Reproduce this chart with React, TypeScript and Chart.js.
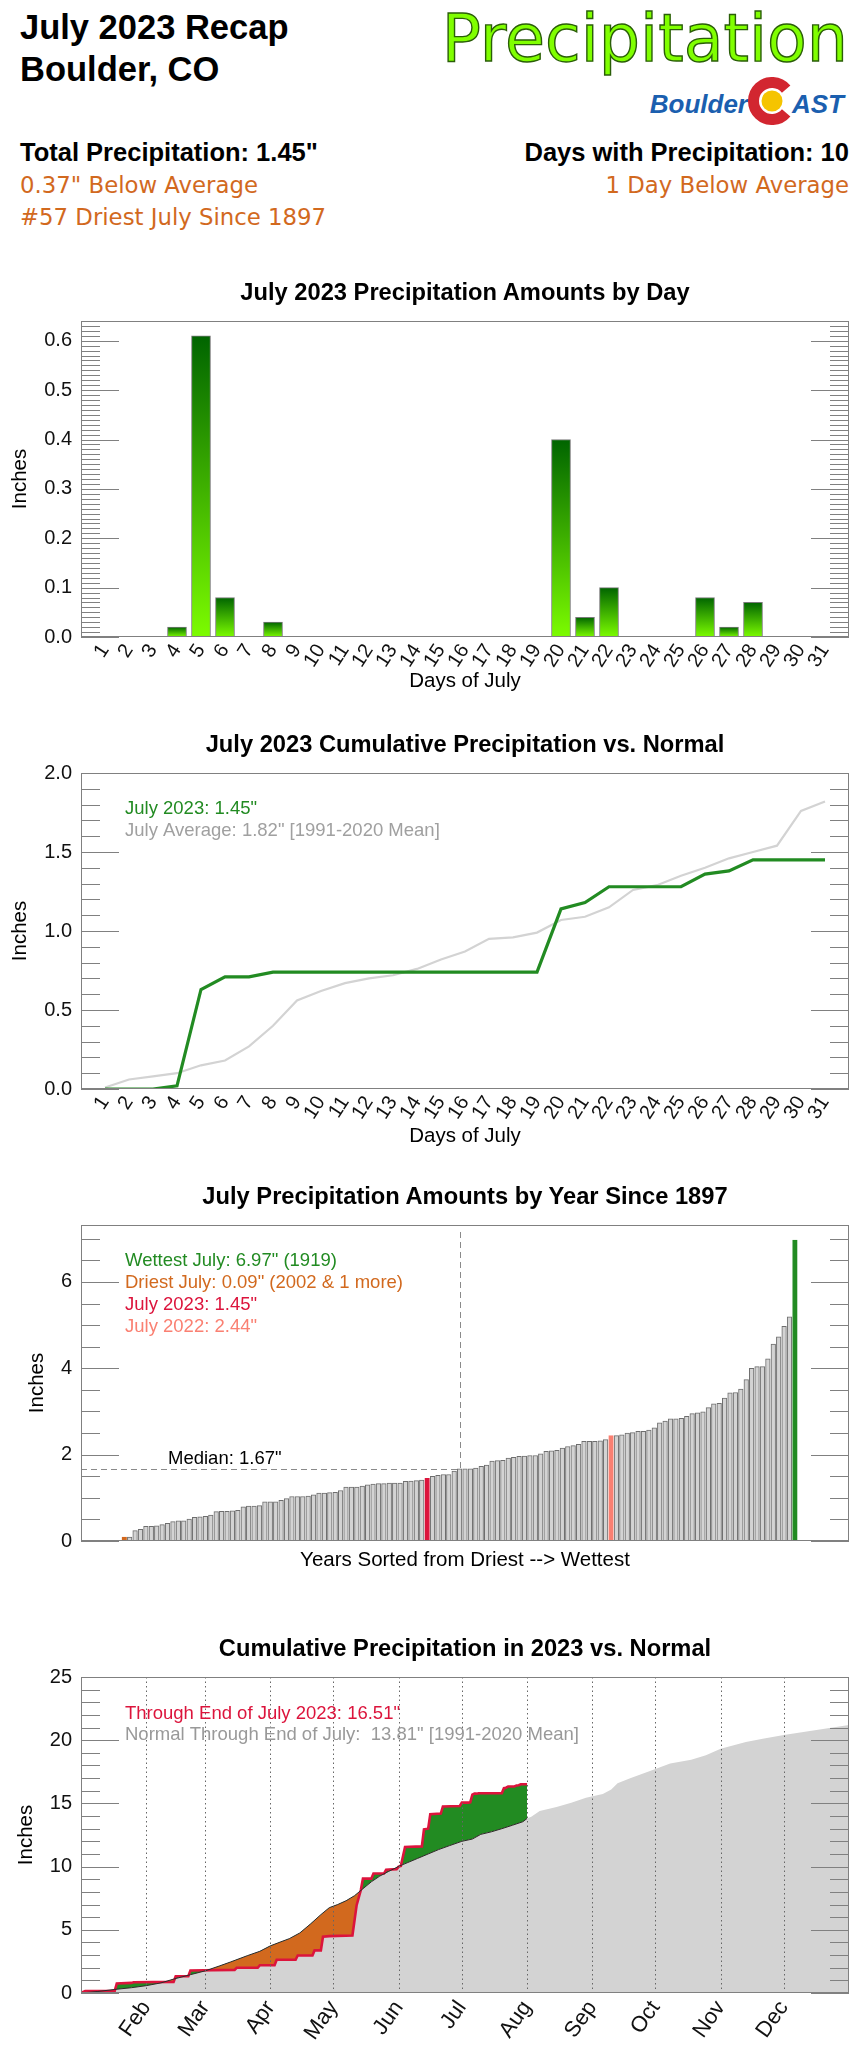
import React, { useEffect, useRef } from 'react';
import { Chart, registerables } from 'chart.js';

Chart.register(...registerables);

const FONT = '"Liberation Sans", Arial, Helvetica, sans-serif';
const DEJAVU = '"DejaVu Sans", Verdana, sans-serif';
Chart.defaults.font.family = FONT;
Chart.defaults.color = '#111';

// ---------------- Data: July 2023 daily ----------------
const DAYS = [1, 2, 3, 4, 5, 6, 7, 8, 9, 10, 11, 12, 13, 14, 15, 16, 17, 18, 19, 20, 21, 22, 23, 24, 25, 26, 27, 28, 29, 30, 31];
const DAILY_PRECIP = [0, 0, 0, 0.02, 0.61, 0.08, 0, 0.03, 0, 0, 0, 0, 0, 0, 0, 0, 0, 0, 0, 0.4, 0.04, 0.1, 0, 0, 0, 0.08, 0.02, 0.07, 0, 0, 0];
const CUM_2023 = [0, 0, 0, 0.02, 0.63, 0.71, 0.71, 0.74, 0.74, 0.74, 0.74, 0.74, 0.74, 0.74, 0.74, 0.74, 0.74, 0.74, 0.74, 1.14, 1.18, 1.28, 1.28, 1.28, 1.28, 1.36, 1.38, 1.45, 1.45, 1.45, 1.45];
const CUM_NORMAL = [0.01, 0.06, 0.08, 0.1, 0.15, 0.18, 0.27, 0.4, 0.56, 0.62, 0.67, 0.7, 0.72, 0.76, 0.82, 0.87, 0.95, 0.96, 0.99, 1.07, 1.09, 1.15, 1.26, 1.29, 1.35, 1.4, 1.46, 1.5, 1.54, 1.76, 1.82];

// ---------------- Data: July totals sorted (1897-2023) ----------------
const JULY_TOTALS_SORTED = [
  0.09, 0.09, 0.24, 0.27, 0.34, 0.34, 0.35, 0.38, 0.41, 0.45,
  0.47, 0.47, 0.51, 0.55, 0.56, 0.57, 0.6, 0.68, 0.69, 0.69,
  0.7, 0.71, 0.79, 0.81, 0.81, 0.82, 0.91, 0.91, 0.91, 0.94,
  0.98, 1.03, 1.03, 1.03, 1.04, 1.07, 1.11, 1.11, 1.12, 1.13,
  1.17, 1.25, 1.25, 1.25, 1.27, 1.3, 1.32, 1.33, 1.33, 1.34,
  1.34, 1.34, 1.38, 1.39, 1.4, 1.41, 1.45, 1.5, 1.52, 1.54,
  1.54, 1.62, 1.67, 1.67, 1.67, 1.69, 1.73, 1.76, 1.85, 1.86,
  1.87, 1.92, 1.94, 1.96, 1.97, 1.98, 1.98, 2.02, 2.08, 2.09,
  2.1, 2.15, 2.19, 2.21, 2.24, 2.31, 2.31, 2.31, 2.32, 2.35,
  2.44, 2.44, 2.46, 2.5, 2.51, 2.54, 2.54, 2.57, 2.62, 2.74,
  2.78, 2.83, 2.83, 2.84, 2.89, 2.95, 2.97, 2.99, 3.09, 3.18,
  3.19, 3.31, 3.43, 3.44, 3.52, 3.74, 4.0, 4.04, 4.04, 4.22,
  4.56, 4.73, 4.97, 5.19, 6.97,
];
const JULY_2023_TOTAL = 1.45;
const JULY_2022_TOTAL = 2.44;

// ---------------- Data: year cumulative ----------------
const MONTH_LABELS = ['Feb', 'Mar', 'Apr', 'May', 'Jun', 'Jul', 'Aug', 'Sep', 'Oct', 'Nov', 'Dec'];
const MONTH_STARTS = [31, 59, 90, 120, 151, 181, 212, 243, 273, 304, 334];
const NORMAL_DAYS = [0, 8, 16, 24, 31, 38, 44, 52, 59, 66, 71, 79, 85, 90, 95, 99, 104, 109, 114, 118, 122, 126, 130, 134, 138, 142, 146, 151, 155, 160, 165, 170, 175, 181, 186, 190, 195, 200, 205, 210, 212, 214, 218, 226, 233, 240, 248, 252, 255, 261, 273, 280, 290, 297, 304, 316, 324, 334, 348, 365];
const NORMAL_VALUES = [0, 0.12, 0.28, 0.42, 0.58, 0.8, 1.1, 1.45, 1.75, 2.15, 2.45, 2.95, 3.3, 3.73, 4.05, 4.3, 4.75, 5.45, 6.2, 6.75, 7.0, 7.3, 7.7, 8.25, 8.8, 9.25, 9.6, 10.02, 10.3, 10.65, 11.0, 11.35, 11.65, 12.0, 12.18, 12.55, 12.75, 13.0, 13.27, 13.55, 13.81, 13.95, 14.4, 14.72, 15.06, 15.44, 15.75, 16.09, 16.6, 16.99, 17.72, 18.16, 18.46, 18.8, 19.33, 19.85, 20.11, 20.42, 20.76, 21.2];
const Y2023_DAYS = [0, 2, 16, 17, 24, 25, 44, 45, 51, 52, 73, 74, 84, 85, 92, 93, 102, 103, 110, 111, 114, 115, 118, 129, 131, 133, 134, 138, 139, 144, 145, 150, 151, 152, 154, 162, 163, 165, 166, 171, 172, 180, 181, 184, 185, 186, 187, 188, 189, 200, 201, 202, 203, 206, 207, 208, 209, 212];
const Y2023_VALUES = [0, 0.15, 0.15, 0.75, 0.8, 0.85, 0.88, 1.32, 1.32, 1.78, 1.83, 2.0, 2.0, 2.2, 2.2, 2.63, 2.63, 2.97, 2.97, 3.37, 3.37, 4.45, 4.5, 4.55, 6.95, 8.15, 9.05, 9.05, 9.45, 9.45, 9.75, 9.8, 10.0, 10.05, 11.55, 11.6, 12.95, 13.0, 14.15, 14.2, 14.75, 14.8, 15.06, 15.06, 15.08, 15.69, 15.77, 15.77, 15.8, 15.8, 16.2, 16.24, 16.34, 16.34, 16.42, 16.44, 16.51, 16.51];
const END_OF_JULY_DAY = 212;

// ---------------- Axis ticks ----------------
const Y1_TICKS = [0, 0.1, 0.2, 0.3, 0.4, 0.5, 0.6];
const Y2_TICKS = [0, 0.5, 1.0, 1.5, 2.0];
const Y3_TICKS = [0, 2, 4, 6];
const Y4_TICKS = [0, 5, 10, 15, 20, 25];

// ---------------- helpers ----------------
function drawText(ctx: any, s: string, x: number, y: number, color: string, size = 18.5) {
  ctx.font = `${size}px ${FONT}`;
  ctx.fillStyle = color;
  ctx.textAlign = 'left';
  ctx.textBaseline = 'middle';
  ctx.fillText(s, x, y);
}

function framePlugin(major: number, minor: number, max: number, extra?: (chart: any) => void) {
  return {
    id: 'frameTicks',
    afterDatasetsDraw(chart: any) {
      const { ctx, chartArea: a, scales } = chart;
      const y = scales.y;
      ctx.save();
      if (extra) extra(chart);
      ctx.setLineDash([]);
      ctx.strokeStyle = '#808080';
      ctx.lineWidth = 1;
      const n = Math.floor(max / minor + 1e-6);
      ctx.beginPath();
      for (let i = 0; i <= n; i++) {
        const v = i * minor;
        const r = v / major;
        const isMajor = Math.abs(r - Math.round(r)) < 1e-6;
        const len = isMajor ? 38 : 19;
        const py = Math.round(y.getPixelForValue(v)) + 0.5;
        ctx.moveTo(a.left, py);
        ctx.lineTo(a.left + len, py);
        ctx.moveTo(a.right - len, py);
        ctx.lineTo(a.right, py);
      }
      ctx.stroke();
      ctx.strokeRect(Math.round(a.left) + 0.5, Math.round(a.top) + 0.5, Math.round(a.width) - 1, Math.round(a.height) - 1);
      ctx.restore();
    },
  };
}

function yAxis(max: number, ticks: number[], fmt: (v: number) => string, width: number) {
  return {
    type: 'linear',
    min: 0,
    max,
    grid: { display: false, drawTicks: false },
    border: { display: false },
    afterBuildTicks: (s: any) => {
      s.ticks = ticks.map((v) => ({ value: v }));
    },
    afterFit: (s: any) => {
      s.width = width;
    },
    ticks: { callback: (v: any) => fmt(Number(v)), padding: 9, font: { size: 20 }, color: '#111' },
    title: { display: true, text: 'Inches', font: { size: 20.5 }, color: '#000', padding: { top: 4, bottom: 0 } },
  };
}

function dayAxis(height: number) {
  return {
    type: 'linear',
    min: 0,
    max: 32,
    offset: false,
    grid: { display: false, drawTicks: false },
    border: { display: false },
    afterBuildTicks: (s: any) => {
      s.ticks = DAYS.map((v) => ({ value: v }));
    },
    afterFit: (s: any) => {
      s.height = height;
    },
    ticks: { autoSkip: false, minRotation: 57, maxRotation: 57, padding: 3, font: { size: 20 }, color: '#111' },
    title: { display: true, text: 'Days of July', font: { size: 20.5 }, color: '#000', padding: { top: 0, bottom: 4 } },
  };
}

const baseOptions = {
  responsive: false,
  maintainAspectRatio: false,
  animation: false,
  devicePixelRatio: 1,
  events: [],
};

// ---------------- chart configs ----------------
function dailyConfig() {
  return {
    type: 'bar',
    data: {
      datasets: [
        {
          data: DAYS.map((d, i) => ({ x: d, y: DAILY_PRECIP[i] })),
          barThickness: 19,
          borderWidth: 1,
          borderColor: '#7a7a7a',
          backgroundColor: (c: any) => {
            const chart = c.chart;
            if (!chart.chartArea || !c.parsed) return '#228B22';
            const ys = chart.scales.y;
            const top = ys.getPixelForValue(c.parsed.y);
            const base = ys.getPixelForValue(0);
            if (!isFinite(top) || !isFinite(base) || base - top < 0.5) return '#7CFC00';
            const g = chart.ctx.createLinearGradient(0, top, 0, base);
            g.addColorStop(0, '#006400');
            g.addColorStop(1, '#7CFC00');
            return g;
          },
        },
      ],
    },
    options: {
      ...baseOptions,
      layout: { padding: { left: 4, right: 12, top: 14, bottom: 2 } },
      plugins: { legend: { display: false }, tooltip: { enabled: false } },
      scales: {
        x: dayAxis(61),
        y: yAxis(0.64, Y1_TICKS, (v) => v.toFixed(1), 77),
      },
    },
    plugins: [framePlugin(0.1, 0.01, 0.64)],
  };
}

function cumulativeConfig() {
  return {
    type: 'line',
    data: {
      datasets: [
        {
          data: DAYS.map((d, i) => ({ x: d, y: CUM_2023[i] })),
          borderColor: '#228B22',
          borderWidth: 3.2,
          pointRadius: 0,
          tension: 0,
          fill: false,
        },
        {
          data: DAYS.map((d, i) => ({ x: d, y: CUM_NORMAL[i] })),
          borderColor: '#D3D3D3',
          borderWidth: 2.2,
          pointRadius: 0,
          tension: 0,
          fill: false,
        },
      ],
    },
    options: {
      ...baseOptions,
      layout: { padding: { left: 4, right: 12, top: 14, bottom: 2 } },
      plugins: { legend: { display: false }, tooltip: { enabled: false } },
      scales: {
        x: dayAxis(64),
        y: yAxis(2.0, Y2_TICKS, (v) => v.toFixed(1), 77),
      },
    },
    plugins: [
      framePlugin(0.5, 0.1, 2.0, (chart) => {
        const { ctx, chartArea: a } = chart;
        drawText(ctx, 'July 2023: 1.45"', a.left + 44, a.top + 36, '#228B22');
        drawText(ctx, 'July Average: 1.82" [1991-2020 Mean]', a.left + 44, a.top + 58, '#A0A0A0');
      }),
    ],
  };
}

function yearsConfig() {
  const n = JULY_TOTALS_SORTED.length;
  const i2023 = JULY_TOTALS_SORTED.indexOf(JULY_2023_TOTAL);
  const i2022 = JULY_TOTALS_SORTED.indexOf(JULY_2022_TOTAL);
  const fills = JULY_TOTALS_SORTED.map((_, i) =>
    i === 0 ? '#D2691E' : i === i2023 ? '#DC143C' : i === i2022 ? '#FA8072' : i === n - 1 ? '#228B22' : '#D3D3D3'
  );
  const borders = fills.map((c) => (c === '#D3D3D3' ? '#6e6e6e' : c));
  const yMax = 7.32;
  return {
    type: 'bar',
    data: {
      datasets: [
        {
          data: JULY_TOTALS_SORTED.map((v, i) => ({ x: i, y: v })),
          barThickness: 4.6,
          borderWidth: 1,
          backgroundColor: fills,
          borderColor: borders,
        },
      ],
    },
    options: {
      ...baseOptions,
      layout: { padding: { left: 21.5, right: 12, top: 14, bottom: 2 } },
      plugins: { legend: { display: false }, tooltip: { enabled: false } },
      scales: {
        x: {
          type: 'linear',
          min: -8,
          max: 134,
          offset: false,
          grid: { display: false, drawTicks: false },
          border: { display: false },
          ticks: { display: false },
          afterFit: (s: any) => {
            s.height = 36;
          },
          title: {
            display: true,
            text: 'Years Sorted from Driest --> Wettest',
            font: { size: 20.5 },
            color: '#000',
            padding: { top: 0, bottom: 4 },
          },
        },
        y: yAxis(yMax, Y3_TICKS, (v) => String(v), 59.5),
      },
    },
    plugins: [
      framePlugin(2, 0.5, yMax, (chart) => {
        const { ctx, chartArea: a, scales } = chart;
        const mi = Math.floor(n / 2);
        const mv = JULY_TOTALS_SORTED[mi];
        const xm = Math.round(scales.x.getPixelForValue(mi)) + 0.5;
        const ym = Math.round(scales.y.getPixelForValue(mv)) + 0.5;
        ctx.strokeStyle = '#8a8a8a';
        ctx.lineWidth = 1;
        ctx.setLineDash([6, 4]);
        ctx.beginPath();
        ctx.moveTo(a.left, ym);
        ctx.lineTo(xm, ym);
        ctx.moveTo(xm, a.top + 7);
        ctx.lineTo(xm, ym);
        ctx.stroke();
        ctx.setLineDash([]);
        drawText(ctx, 'Median: ' + mv.toFixed(2) + '"', a.left + 87, ym - 11, '#000');
        drawText(ctx, 'Wettest July: 6.97" (1919)', a.left + 44, a.top + 36, '#228B22');
        drawText(ctx, 'Driest July: 0.09" (2002 & 1 more)', a.left + 44, a.top + 58, '#D2691E');
        drawText(ctx, 'July 2023: 1.45"', a.left + 44, a.top + 80, '#DC143C');
        drawText(ctx, 'July 2022: 2.44"', a.left + 44, a.top + 102, '#FA8072');
      }),
    ],
  };
}

function yearCumConfig() {
  const normalPts = NORMAL_DAYS.map((d, i) => ({ x: d, y: NORMAL_VALUES[i] }));
  const normalJuly = normalPts.filter((p) => p.x <= END_OF_JULY_DAY);
  const pts2023 = Y2023_DAYS.map((d, i) => ({ x: d, y: Y2023_VALUES[i] }));
  return {
    type: 'line',
    data: {
      datasets: [
        {
          data: normalJuly,
          borderColor: '#2a2a2a',
          borderWidth: 1,
          pointRadius: 0,
          tension: 0,
          fill: false,
        },
        {
          data: pts2023,
          borderColor: '#DC143C',
          borderWidth: 2.6,
          pointRadius: 0,
          tension: 0,
          backgroundColor: '#228B22',
          fill: { target: '-1', above: '#228B22', below: '#D2691E' },
        },
        {
          data: normalPts,
          borderColor: '#D3D3D3',
          borderWidth: 0,
          pointRadius: 0,
          tension: 0,
          backgroundColor: '#D3D3D3',
          fill: 'origin',
        },
      ],
    },
    options: {
      ...baseOptions,
      layout: { padding: { left: 10, right: 12, top: 14, bottom: 0 } },
      plugins: { legend: { display: false }, tooltip: { enabled: false } },
      scales: {
        x: {
          type: 'linear',
          min: 0,
          max: 365,
          offset: false,
          grid: { display: false, drawTicks: false },
          border: { display: false },
          afterBuildTicks: (s: any) => {
            s.ticks = MONTH_STARTS.map((v) => ({ value: v }));
          },
          afterFit: (s: any) => {
            s.height = 55;
          },
          ticks: {
            autoSkip: false,
            minRotation: 55,
            maxRotation: 55,
            padding: 3,
            font: { size: 22 },
            color: '#111',
            callback: (_v: any, i: number) => MONTH_LABELS[i],
          },
        },
        y: yAxis(25, Y4_TICKS, (v) => String(v), 71),
      },
    },
    plugins: [
      framePlugin(5, 1, 25, (chart) => {
        const { ctx, chartArea: a, scales } = chart;
        ctx.strokeStyle = '#666';
        ctx.lineWidth = 1;
        ctx.setLineDash([1.5, 3]);
        ctx.beginPath();
        MONTH_STARTS.forEach((m) => {
          const px = Math.round(scales.x.getPixelForValue(m)) + 0.5;
          ctx.moveTo(px, a.top);
          ctx.lineTo(px, a.bottom);
        });
        ctx.stroke();
        ctx.setLineDash([]);
        drawText(ctx, 'Through End of July 2023: 16.51"', a.left + 44, a.top + 37, '#DC143C');
        drawText(ctx, 'Normal Through End of July:  13.81" [1991-2020 Mean]', a.left + 44, a.top + 58, '#999999');
      }),
    ],
  };
}

// ---------------- components ----------------
function ChartCanvas({ top, height, config }: { top: number; height: number; config: () => any }) {
  const ref = useRef<HTMLCanvasElement | null>(null);
  useEffect(() => {
    if (!ref.current) return;
    const chart = new Chart(ref.current, config() as any);
    return () => chart.destroy();
  }, []);
  return (
    <canvas
      ref={ref}
      width={861}
      height={height}
      style={{ position: 'absolute', left: 0, top, width: 861, height, display: 'block' }}
    />
  );
}

function T(props: {
  x: number;
  base: number;
  size: number;
  weight?: number;
  color?: string;
  family?: string;
  align?: 'left' | 'right' | 'center';
  style?: any;
  children: any;
}) {
  const { x, base, size, weight = 400, color = '#000', family = FONT, align = 'left', style, children } = props;
  const top = base - 0.846 * size;
  const common: any = {
    position: 'absolute',
    top,
    fontSize: size,
    lineHeight: `${size}px`,
    fontFamily: family,
    fontWeight: weight,
    color,
    whiteSpace: 'nowrap',
    margin: 0,
  };
  if (align === 'left') return <div style={{ ...common, left: x, ...style }}>{children}</div>;
  if (align === 'right') return <div style={{ ...common, right: 861 - x, ...style }}>{children}</div>;
  return <div style={{ ...common, left: x - 500, width: 1000, textAlign: 'center', ...style }}>{children}</div>;
}

function LogoC() {
  const r = 18.5;
  const a = (40 * Math.PI) / 180;
  const sx = r * Math.cos(a);
  const sy = r * Math.sin(a);
  return (
    <svg style={{ position: 'absolute', left: 748, top: 77 }} width={48} height={48} viewBox="-24 -24 48 48">
      <path d={`M ${sx} ${-sy} A ${r} ${r} 0 1 0 ${sx} ${sy}`} fill="none" stroke="#D22630" strokeWidth={11} />
      <circle cx={0} cy={0} r={10.5} fill="#F5C400" />
    </svg>
  );
}

export default function App() {
  const orange = '#D2691E';
  const blue = '#1B5FAF';
  return (
    <div style={{ position: 'absolute', left: 0, top: 0, width: 861, height: 2048, background: '#fff', overflow: 'hidden' }}>
      <T x={20} base={39} size={34.5} weight={700}>July 2023 Recap</T>
      <T x={20} base={81} size={34.5} weight={700}>Boulder, CO</T>
      <T
        x={848}
        base={61}
        size={65}
        family={DEJAVU}
        align="right"
        color="#80FF00"
        style={{ WebkitTextStroke: '1.4px #2a5e08' }}
      >
        Precipitation
      </T>
      <T x={748} base={113} size={26} weight={700} color={blue} align="right" style={{ fontStyle: 'italic' }}>
        Boulder
      </T>
      <LogoC />
      <T x={792} base={113} size={26} weight={700} color={blue} style={{ fontStyle: 'italic' }}>
        AST
      </T>

      <T x={20} base={162} size={25.5} weight={700}>Total Precipitation: 1.45"</T>
      <T x={20} base={193} size={22.8} family={DEJAVU} color={orange}>0.37" Below Average</T>
      <T x={20} base={225} size={22.8} family={DEJAVU} color={orange}>#57 Driest July Since 1897</T>
      <T x={849} base={162} size={25.5} weight={700} align="right">Days with Precipitation: 10</T>
      <T x={849} base={193} size={22.8} family={DEJAVU} color={orange} align="right">1 Day Below Average</T>

      <ChartCanvas top={300} height={400} config={dailyConfig} />
      <ChartCanvas top={752} height={403} config={cumulativeConfig} />
      <ChartCanvas top={1204} height={375} config={yearsConfig} />
      <ChartCanvas top={1656} height={392} config={yearCumConfig} />

      <T x={465} base={301} size={23.7} weight={700} align="center">July 2023 Precipitation Amounts by Day</T>
      <T x={465} base={753} size={23.7} weight={700} align="center">July 2023 Cumulative Precipitation vs. Normal</T>
      <T x={465} base={1205} size={23.7} weight={700} align="center">July Precipitation Amounts by Year Since 1897</T>
      <T x={465} base={1657} size={23.7} weight={700} align="center">Cumulative Precipitation in 2023 vs. Normal</T>
    </div>
  );
}
